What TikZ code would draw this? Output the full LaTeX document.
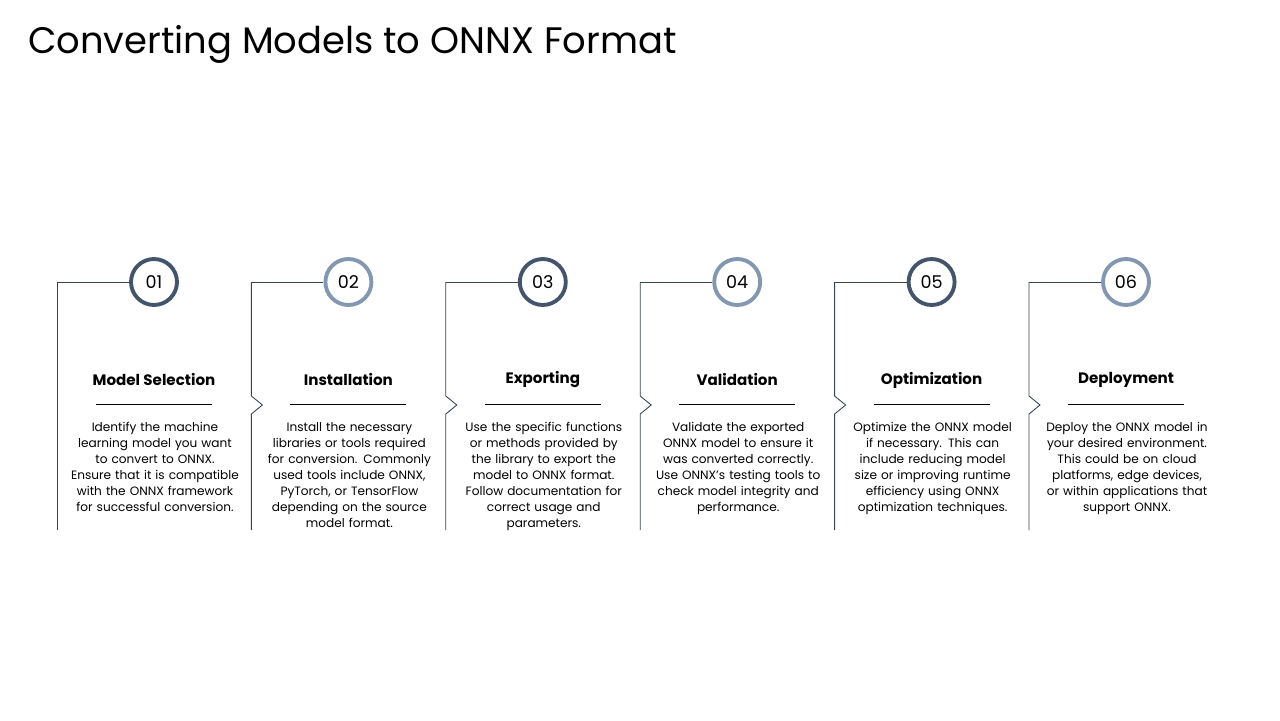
\documentclass[tikz,border=0pt]{standalone}
\usepackage{fontspec}
\setmainfont{Poppins}
\definecolor{darkring}{HTML}{44546A}
\definecolor{lightring}{HTML}{8497B0}
\tikzset{
  ring/.style={circle, draw, line width=2.2pt, fill=white, minimum size=0.92cm, inner sep=0pt, font=\fontsize{10}{12}\selectfont},
  steptitle/.style={font=\fontsize{8.6}{10}\selectfont\bfseries},
  stepbody/.style={align=center, anchor=north, text width=3.4cm, font=\fontsize{6.9}{9.1}\selectfont, inner sep=0pt},
}
\begin{document}
\begin{tikzpicture}[x=0.02cm, y=-0.02cm]
\useasboundingbox (0,0) rectangle (1280,720);
\node[anchor=west, font=\fontsize{21}{24}\selectfont] (title) at (22,44) {Converting Models to ONNX Format};

\foreach \i/\num/\col/\head/\body in {
  0/01/darkring/Model Selection/{Identify the machine\\learning model you want\\to convert to ONNX.\\Ensure that it is compatible\\with the ONNX framework\\for successful conversion.},
  1/02/lightring/Installation/{Install the necessary\\libraries or tools required\\for conversion. Commonly\\used tools include ONNX,\\PyTorch, or TensorFlow\\depending on the source\\model format.},
  2/03/darkring/Exporting/{Use the specific functions\\or methods provided by\\the library to export the\\model to ONNX format.\\Follow documentation for\\correct usage and\\parameters.},
  3/04/lightring/Validation/{Validate the exported\\ONNX model to ensure it\\was converted correctly.\\Use ONNX's testing tools to\\check model integrity and\\performance.},
  4/05/darkring/Optimization/{Optimize the ONNX model\\if necessary.  This can\\include reducing model\\size or improving runtime\\efficiency using ONNX\\optimization techniques.},
  5/06/lightring/Deployment/{Deploy the ONNX model in\\your desired environment.\\This could be on cloud\\platforms, edge devices,\\or within applications that\\support ONNX.}}
{
  \pgfmathsetmacro{\cx}{154+194.4*\i}
  \pgfmathsetmacro{\lx}{57+194.4*\i}
  % bracket with notch
  \coordinate (top\num) at (\lx,282);
  \ifnum\i=0
    \draw[darkring!80!black, line width=0.5pt] (\lx,530) -- (top\num);
  \else
    \draw[darkring!80!black, line width=0.5pt] (\lx,530) -- (\lx,414) -- ++(11,-9) -- (\lx,396) -- (top\num);
  \fi
  \node[ring, draw=\col] (c\num) at (\cx,282) {\num};
  \draw[darkring!80!black, line width=0.5pt] (top\num) -- (c\num.west);
  \node[steptitle] (h\num) at (\cx,380) {\head};
  \draw[line width=0.4pt] (\cx-58,404) -- (\cx+58,404);
  \node[stepbody] (b\num) at (\cx+1,422) {\body};
}
\end{tikzpicture}
\end{document}
